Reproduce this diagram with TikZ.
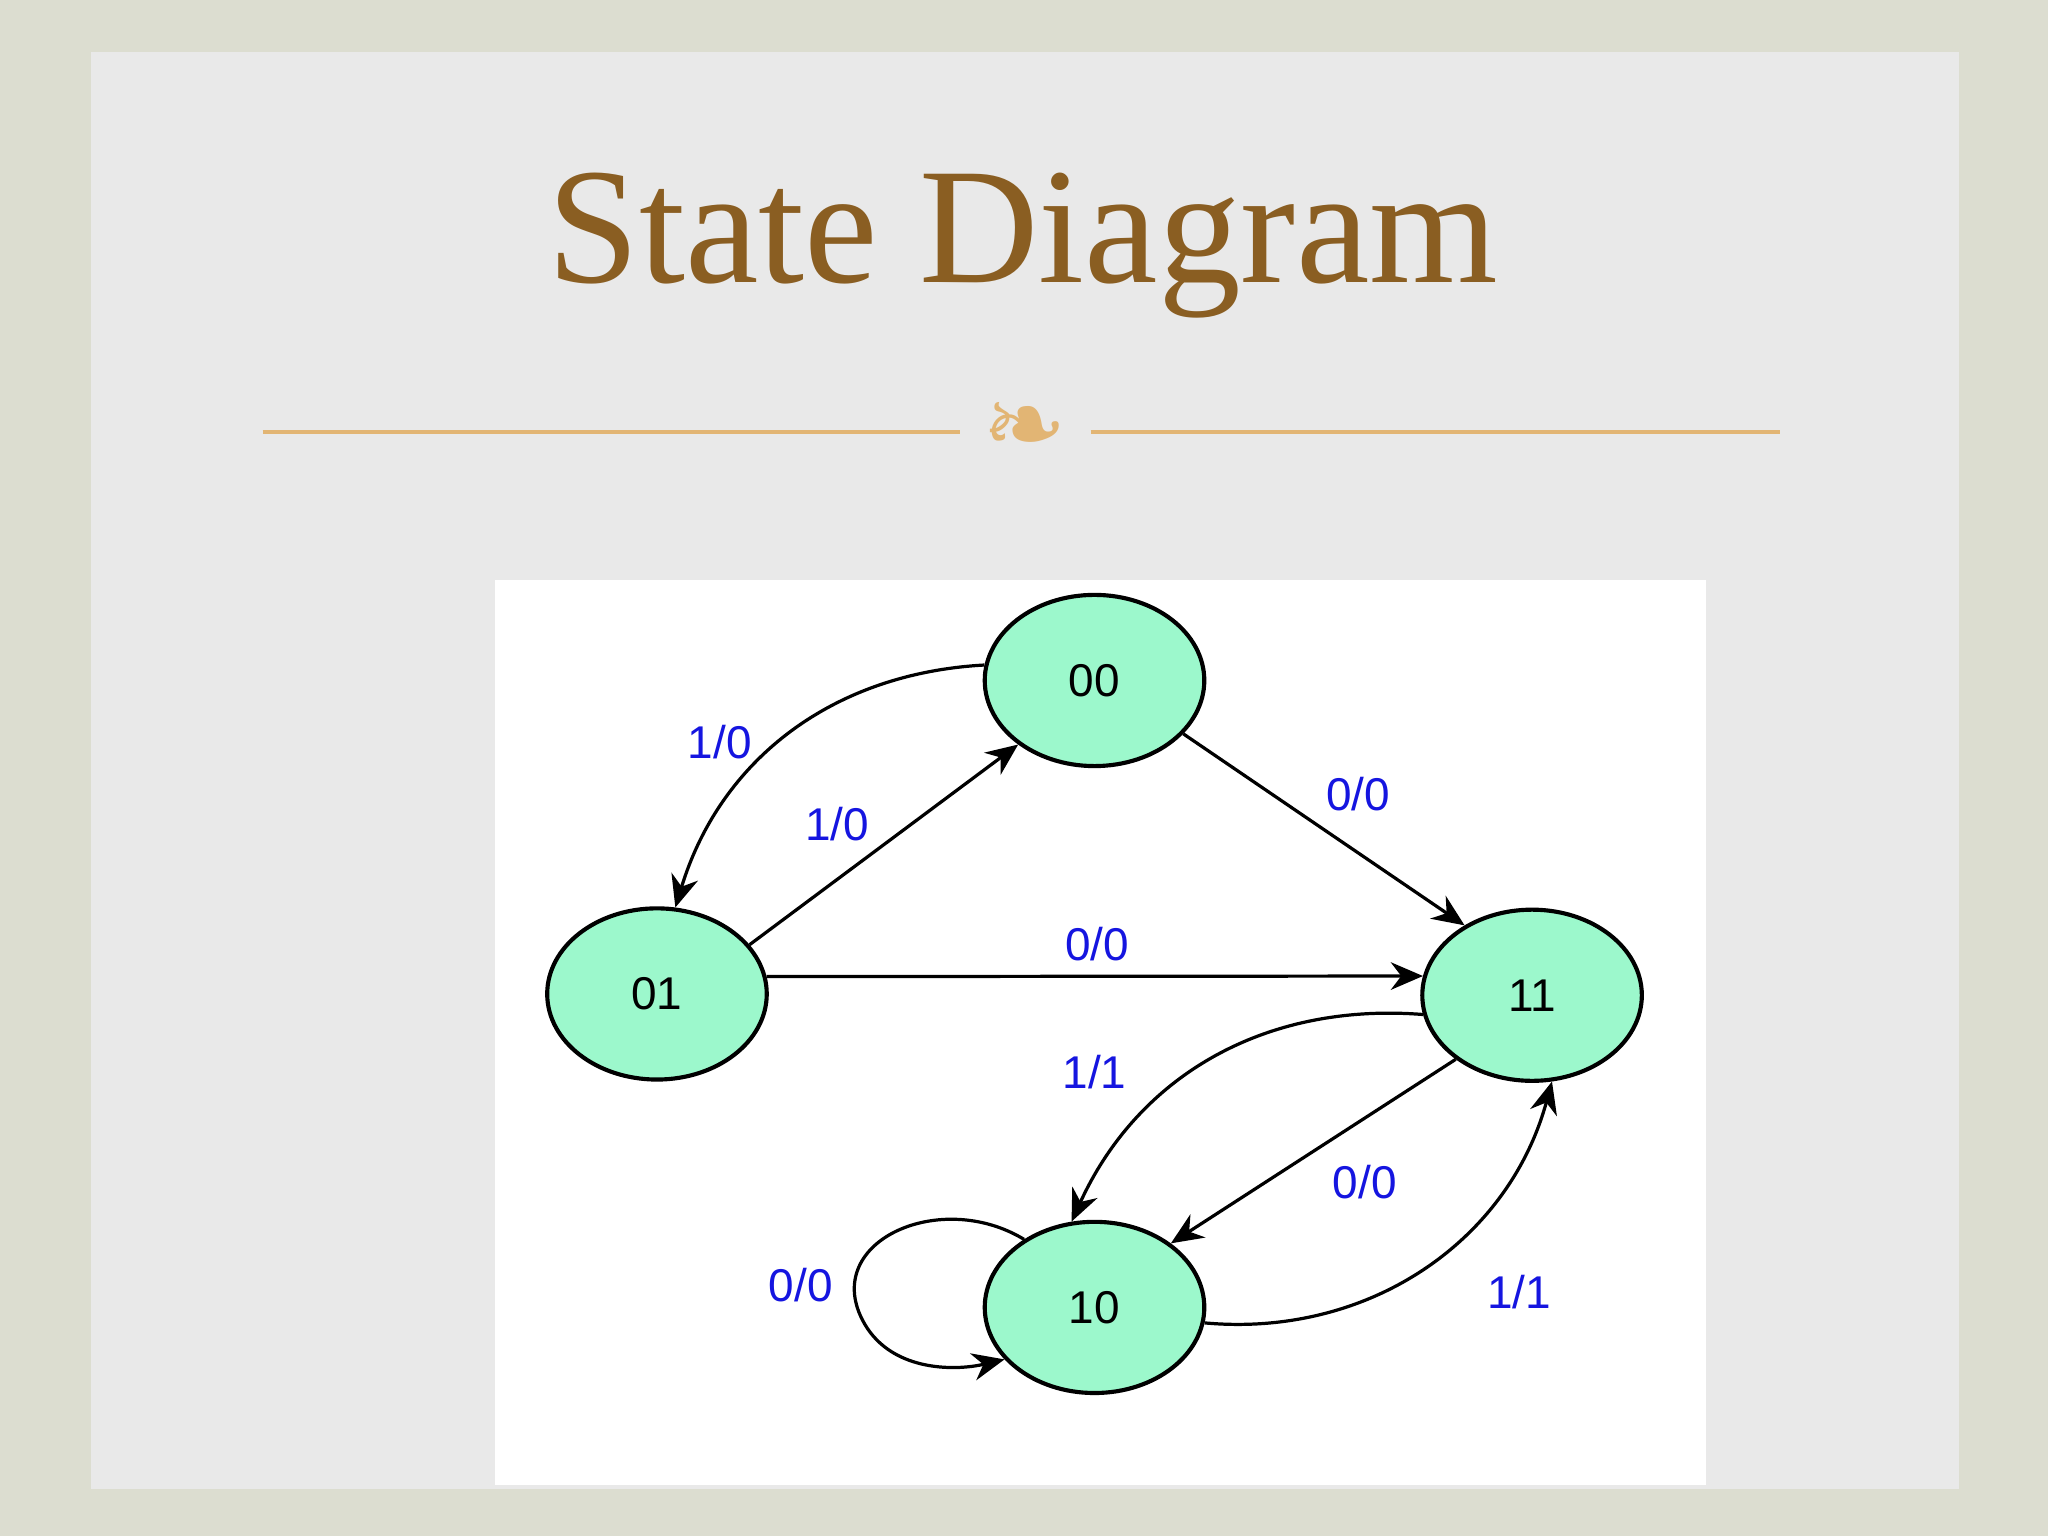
\documentclass[tikz,border=0pt]{standalone}
\usepackage{fontspec}
\setmainfont{Liberation Serif}
\newfontfamily\lab{Liberation Sans}
\newfontfamily\orn{DejaVu Sans}
\usetikzlibrary{arrows.meta,shapes.geometric}
\definecolor{bgout}{HTML}{DCDDD0}
\definecolor{bgin}{HTML}{E9E9E9}
\definecolor{titlec}{HTML}{8A5E22}
\definecolor{rulec}{HTML}{E2B574}
\definecolor{statec}{HTML}{9CF8CC}
\definecolor{labc}{HTML}{1515E0}
\tikzset{
 st/.style={ellipse,draw=black,line width=0.9pt,fill=statec,minimum width=1.68cm,minimum height=1.31cm,inner sep=0pt,font=\lab\fontsize{10}{12}\selectfont},
 tr/.style={draw=black,line width=0.7pt,-{Stealth[length=7pt,width=6pt]}},
 el/.style={text=labc,font=\lab\fontsize{10}{12}\selectfont}
}
\begin{document}
\begin{tikzpicture}[x=0.01cm,y=-0.01cm]
\fill[bgout] (0,0) rectangle (1568,1176);
\fill[bgin] (70,40) rectangle (1500,1140);
\useasboundingbox (0,0) rectangle (1568,1176);
\node[text=titlec,font=\fontsize{36}{40}\selectfont] (title) at (783,188) {State Diagram};
\draw[rulec,line width=0.8pt] (201,331) -- (735,331);
\draw[rulec,line width=0.8pt] (835,331) -- (1363,331);
\node[text=rulec,font=\orn\fontsize{22}{24}\selectfont] (ornament) at (785,330) {❧};
\fill[white] (379,444) rectangle (1306,1137);
\node[st] (n00) at (838,521) {00};
\node[st] (n01) at (503,761) {01};
\node[st] (n11) at (1173,762) {11};
\node[st] (n10) at (838,1001) {10};
\draw[tr] (n00.172) to[bend right=35] (n01.78);
\draw[tr] (n01.28) -- (n00.220);
\draw[tr] (n00.-31) -- (n11.134);
\draw[tr] (n01.9) -- (n11.170);
\draw[tr] (n11.190) to[bend right=35] (n10.105);
\draw[tr] (n11.220) -- (n10.40);
\draw[tr] (n10.-8) to[bend right=40] (n11.283);
\draw[tr] (n10.136) .. controls (720,910) and (630,950) .. (660,1010) .. controls (680,1050) and (730,1050) .. (n10.210);
\node[el] (l1) at (551,568) {1/0};
\node[el] (l2) at (641,631) {1/0};
\node[el] (l3) at (1040,608) {0/0};
\node[el] (l4) at (840,723) {0/0};
\node[el] (l5) at (838,821) {1/1};
\node[el] (l6) at (1045,905) {0/0};
\node[el] (l7) at (1163,989) {1/1};
\node[el] (l8) at (613,984) {0/0};
\end{tikzpicture}
\end{document}
